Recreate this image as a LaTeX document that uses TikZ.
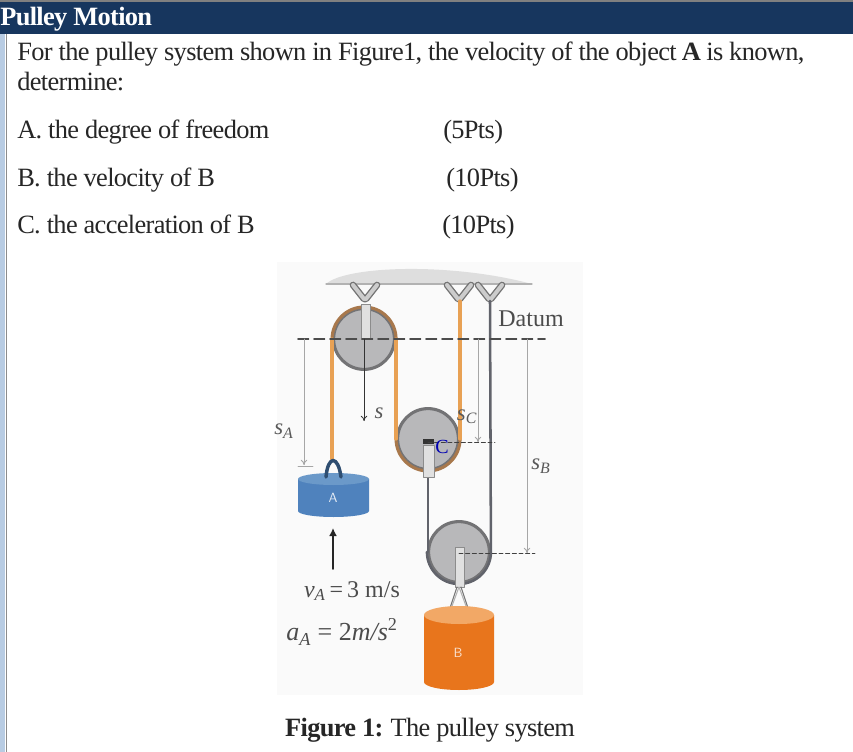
\documentclass[tikz,border=0pt]{standalone}
\usepackage{fontspec}
\setmainfont{Liberation Serif}
\usetikzlibrary{arrows}
\usetikzlibrary{arrows.meta}
\usetikzlibrary{positioning}
\definecolor{headblue}{rgb}{0.09,0.21,0.37}
\definecolor{sideblue}{rgb}{0.72,0.80,0.89}
\definecolor{ropeorange}{rgb}{0.91,0.63,0.33}
\definecolor{rimbrown}{rgb}{0.66,0.47,0.30}
\definecolor{rimgrey}{rgb}{0.45,0.45,0.46}
\definecolor{wheelgrey}{rgb}{0.72,0.72,0.73}
\definecolor{platelight}{rgb}{0.88,0.88,0.88}
\definecolor{ropedark}{rgb}{0.38,0.39,0.42}
\definecolor{blockblue}{rgb}{0.31,0.51,0.74}
\definecolor{blocktop}{rgb}{0.42,0.60,0.79}
\definecolor{blockorange}{rgb}{0.91,0.46,0.11}
\definecolor{orangetop}{rgb}{0.95,0.66,0.40}
\definecolor{textgrey}{rgb}{0.15,0.15,0.15}
\tikzset{
  bodytext/.style={anchor=base west,inner sep=0pt,text=textgrey,font=\fontsize{19.8}{23}\selectfont\addfontfeatures{LetterSpace=-2.5}},
  figtext/.style={inner sep=0pt,text=black!65,font=\fontsize{17}{20}\selectfont\itshape},
  wheel/.style={circle,draw=rimgrey,line width=2.3pt,fill=wheelgrey,minimum size=45.6pt,inner sep=0pt},
  rope/.style={color=ropeorange,line width=2.4pt},
  darkrope/.style={color=ropedark,line width=1.9pt},
  measure/.style={color=black!35,line width=0.7pt,-{To[length=4pt,width=5pt]}},
  dim/.style={color=black!75,line width=0.7pt,dash pattern=on 3pt off 2pt},
  plate/.style={fill=platelight,draw=black!45,line width=0.5pt}
}
\begin{document}
\begin{tikzpicture}[line cap=round,line join=round,>=triangle 45,x=0.75pt,y=-0.75pt]
\useasboundingbox (0,0) rectangle (853,752);
\fill[white] (0,0) rectangle (853,752);
\fill[sideblue] (0,34) rectangle (5,752);
\draw[color=black!45,line width=0.7pt] (6,34) -- (6,752);
\fill[color=black!50] (0,0) rectangle (853,2);
\fill[headblue] (0,2) rectangle (853,34);
\node[bodytext,text=white,font=\bfseries\fontsize{19.8}{23}\selectfont\addfontfeatures{LetterSpace=-2.5}] (title) at (0,26) {Pulley Motion};
\node[bodytext] (introA) at (17,61) {For the pulley system shown in Figure1, the velocity of the object \textbf{A} is known,};
\node[bodytext] (introB) at (17,91) {determine:};
\foreach \rowid/\y/\ask/\px/\pts in {a/139/A. the degree of freedom/443/(5Pts),b/187/B. the velocity of B/446/(10Pts),c/234/C. the acceleration of B/442/(10Pts)}{
\node[bodytext] (ask\rowid) at (17,\y) {\ask};
\node[bodytext] (pts\rowid) at (\px,\y) {\pts};
}
\fill[color=black!2] (277,262) rectangle (583,695);
\fill[color=black!13] (326,284) .. controls (345,266) and (450,262) .. (532,284) -- cycle;
\draw[color=black!30,line width=0.8pt] (326,284) -- (532,284);
\foreach \hx/\hookname in {365/hookA,459/hookC,490/hookB}{
\coordinate (\hookname) at (\hx,301);
\draw[color=black!55,line width=5pt] (\hx-12,285) -- (\hx-1,299) -- (\hx+1,299) -- (\hx+12,285);
\draw[color=black!20,line width=3pt] (\hx-12,285) -- (\hx-1,299) -- (\hx+1,299) -- (\hx+12,285);
}
\node[wheel] (pulleyA) at (364,339) {};
\node[wheel] (pulleyC) at (428,439) {};
\node[wheel] (pulleyB) at (459,552) {};
\draw[color=rimbrown,line width=2.3pt] (pulleyA.west) arc (180:360:32);
\draw[color=rimbrown,line width=2.3pt] (pulleyC.west) arc (180:0:32);
\node[draw=none,inner sep=0pt,minimum size=0pt] (blockAhook) at (333,459) {};
\draw[rope] (pulleyA.west) -- (pulleyA.west |- blockAhook);
\draw[rope] (pulleyA.east) -- (pulleyA.east |- pulleyC.west);
\draw[rope] (pulleyC.east) -- (pulleyC.east |- hookC);
\draw[darkrope] (hookB) -- (pulleyB.east);
\draw[darkrope] (pulleyB.east) arc (0:180:32);
\coordinate (strapC) at (428,477);
\draw[darkrope] (strapC) -- (strapC |- pulleyB.west);
\draw[plate] (361,304) rectangle (370,339);
\draw[plate] (423,445) rectangle (434,477);
\fill[color=black!80] (423,439) rectangle (434,444);
\draw[plate] (455,547) rectangle (464,587);
\draw[color=black!30,line width=0.8pt] (459,587) -- (452,606) (459,587) -- (466,606);
\draw[color=black!55,line width=0.8pt] (457,587) -- (450,608) (461,587) -- (468,608);
\fill[blockblue] (298,479) -- (298,511) arc (180:0:35.5 and 6) -- (369,479) -- cycle;
\fill[blocktop] (333.5,479) ellipse (35.5 and 6);
\draw[color=black!40!blockblue,line width=2.6pt] (326,477) .. controls (328,455) and (338,455) .. (341,477);
\node[text=white!85!blockblue,font=\fontsize{10}{12}\sffamily,inner sep=0pt] (labelA) at (333,498) {A};
\fill[blockorange] (424,615) -- (424,682) arc (180:0:35 and 8) -- (494,615) -- cycle;
\fill[orangetop] (459,615) ellipse (35 and 9);
\node[text=white!80!blockorange,font=\fontsize{10}{12}\sffamily,inner sep=0pt] (labelB) at (458,653) {B};
\node[draw=none,inner sep=0pt] (datumL) at (297,339) {};
\node[draw=none,inner sep=0pt] (datumR) at (546,339) {};
\draw[color=black!70,line width=1.1pt,dash pattern=on 8pt off 4pt] (datumL) -- (datumR);
\node[inner sep=0pt,text=black!70,font=\fontsize{18}{21}\selectfont] (datum) at (531,319) {Datum};
\coordinate (tickA) at (304,339);
\coordinate (endA) at (304,465);
\draw[measure] (tickA) -- (endA);
\draw[color=black!35,line width=0.7pt] (298,466) -- (313,466);
\draw[color=black!80,line width=0.6pt,-{To[length=4pt,width=5pt]}] (pulleyA.center) -- (364,421);
\coordinate (tickC) at (478,339);
\coordinate (endC) at (478,442);
\draw[measure] (tickC) -- (endC);
\coordinate (tickB) at (527,339);
\coordinate (endB) at (527,553);
\draw[measure] (tickB) -- (endB);
\coordinate (dimC) at (495,442);
\coordinate (dimB) at (535,553);
\draw[dim] (pulleyC.center |- dimC) -- (dimC);
\draw[dim] (pulleyB.center |- dimB) -- (dimB);
\node[figtext] (labelS) at (379,413) {s};
\node[figtext] (labelSA) at (284,431) {s\textsubscript{A}};
\node[figtext] (labelSC) at (467,417) {s\textsubscript{C}};
\node[figtext] (labelSB) at (541,466) {s\textsubscript{B}};
\node[text=blue!70!black,inner sep=0pt,font=\fontsize{15}{18}\selectfont] (labelC) at (442,447) {C};
\coordinate (arrowTop) at (333,528);
\coordinate (arrowBot) at (333,569);
\draw[color=black!85,line width=1.3pt,-{Latex[length=6pt,width=6pt]}] (arrowBot) -- (arrowTop);
\node[inner sep=0pt,text=black!70,font=\fontsize{18}{21}\selectfont] (labelV) at (352,591) {\textit{v}\textsubscript{\textit{A}}\,=\,3 m/s};
\node[inner sep=0pt,text=black!70,font=\fontsize{19.5}{23}\selectfont] (labelAcc) at (342,632) {\textit{a}\textsubscript{\textit{A}} = 2\textit{m/s}\textsuperscript{2}};
\node[inner sep=0pt,text=textgrey,font=\fontsize{19.8}{23}\selectfont\addfontfeatures{LetterSpace=-2.5}] (caption) at (430,730) {\textbf{Figure 1:} The pulley system};
\end{tikzpicture}
\end{document}
